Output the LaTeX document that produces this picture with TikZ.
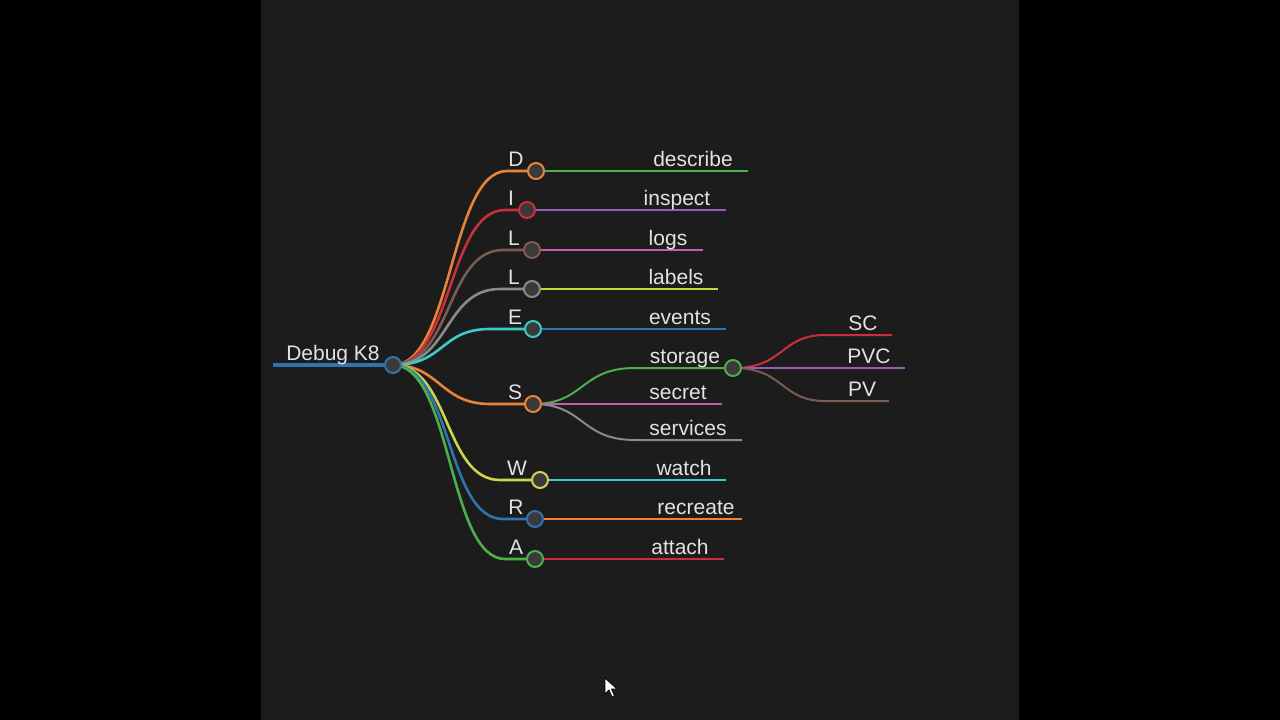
\documentclass[tikz,border=0pt]{standalone}
\usepackage{fontspec}
\setmainfont{Liberation Sans}
\definecolor{panel}{HTML}{1C1C1C}
\definecolor{dotfill}{HTML}{3A3A3A}
\definecolor{txt}{HTML}{E2E2E2}
\definecolor{corange}{HTML}{E8833A}
\definecolor{cred}{HTML}{C9303E}
\definecolor{cbrown}{HTML}{7B5B52}
\definecolor{cgray}{HTML}{8A8A8A}
\definecolor{ccyan}{HTML}{3DC9C9}
\definecolor{cyellow}{HTML}{CFD44A}
\definecolor{cblue}{HTML}{2F73B0}
\definecolor{cgreen}{HTML}{4BB04A}
\definecolor{cpurple}{HTML}{9B5BB5}
\definecolor{cpink}{HTML}{C85AB0}
\definecolor{cygreen}{HTML}{C5D43A}
\pgfdeclarelayer{bg}
\pgfsetlayers{bg,main}
\begin{document}
\begin{tikzpicture}[x=1pt,y=-1pt,
  br/.style={line width=2.6pt},
  lf/.style={line width=2pt},
  dot/.style={circle,draw,line width=2pt,fill=dotfill,minimum size=16pt,inner sep=0pt},
  lbl/.style={text=txt,font=\fontsize{21}{25}\selectfont,inner sep=0pt,anchor=base}]
\useasboundingbox (0,0) rectangle (1280,720);

% nodes
\node[dot,draw=cblue] (root) at (393,365) {};
\node[dot,draw=corange] (D) at (536,171) {};
\node[dot,draw=cred] (I) at (527,210) {};
\node[dot,draw=cbrown] (L1) at (532,250) {};
\node[dot,draw=cgray] (L2) at (532,289) {};
\node[dot,draw=ccyan] (E) at (533,329) {};
\node[dot,draw=corange] (S) at (533,404) {};
\node[dot,draw=cgreen] (ST) at (733,368) {};
\node[dot,draw=cyellow] (W) at (540,480) {};
\node[dot,draw=cblue] (R) at (535,519) {};
\node[dot,draw=cgreen] (A) at (535,559) {};

\coordinate (rootstart) at (273,365);
\coordinate (eDescribe) at (748,171);
\coordinate (eInspect) at (726,210);
\coordinate (eLogs) at (703,250);
\coordinate (eLabels) at (718,289);
\coordinate (eEvents) at (726,329);
\coordinate (eSecret) at (722,404);
\coordinate (eServices) at (742,440);
\coordinate (eWatch) at (726,480);
\coordinate (eRecreate) at (742,519);
\coordinate (eAttach) at (724,559);
\coordinate (eSC) at (892,335);
\coordinate (ePVC) at (905,368);
\coordinate (ePV) at (889,401);

% labels
\node[lbl] (tRoot) at (333,360) {Debug K8};
\node[lbl] (tD) at (516,166) {D};
\node[lbl] (tI) at (511,205) {I};
\node[lbl] (tL1) at (514,245) {L};
\node[lbl] (tL2) at (514,284) {L};
\node[lbl] (tE) at (515,324) {E};
\node[lbl] (tS) at (515,399) {S};
\node[lbl] (tW) at (517,475) {W};
\node[lbl] (tR) at (516,514) {R};
\node[lbl] (tA) at (516,554) {A};
\node[lbl] (tDescribe) at (693,166) {describe};
\node[lbl] (tInspect) at (677,205) {inspect};
\node[lbl] (tLogs) at (668,245) {logs};
\node[lbl] (tLabels) at (676,284) {labels};
\node[lbl] (tEvents) at (680,324) {events};
\node[lbl] (tStorage) at (685,363) {storage};
\node[lbl] (tSecret) at (678,399) {secret};
\node[lbl] (tServices) at (688,435) {services};
\node[lbl] (tWatch) at (684,475) {watch};
\node[lbl] (tRecreate) at (696,514) {recreate};
\node[lbl] (tAttach) at (680,554) {attach};
\node[lbl] (tSC) at (863,330) {SC};
\node[lbl] (tPVC) at (869,363) {PVC};
\node[lbl] (tPV) at (862,396) {PV};

\begin{pgfonlayer}{bg}
\fill[black] (0,0) rectangle (1280,720);
\fill[panel] (261,0) rectangle (1019,720);
\draw[line width=4pt,cblue] (rootstart) -- (root.center);
% main branches
\draw[br,corange] (root.center) .. controls (452,365) and (450,171) .. (507,171) -- (D.center);
\draw[br,cred] (root.center) .. controls (452,365) and (448,210) .. (505,210) -- (I.center);
\draw[br,cbrown] (root.center) .. controls (452,365) and (446,250) .. (503,250) -- (L1.center);
\draw[br,cgray] (root.center) .. controls (450,365) and (444,289) .. (500,289) -- (L2.center);
\draw[br,ccyan] (root.center) .. controls (445,365) and (440,329) .. (490,329) -- (E.center);
\draw[br,corange] (root.center) .. controls (440,365) and (440,404) .. (490,404) -- (S.center);
\draw[br,cyellow] (root.center) .. controls (450,365) and (444,480) .. (500,480) -- (W.center);
\draw[br,cblue] (root.center) .. controls (452,365) and (446,519) .. (503,519) -- (R.center);
\draw[br,cgreen] (root.center) .. controls (452,365) and (448,559) .. (505,559) -- (A.center);
% leaves
\draw[lf,cgreen] (D.center) -- (eDescribe);
\draw[lf,cpurple] (I.center) -- (eInspect);
\draw[lf,cpink] (L1.center) -- (eLogs);
\draw[lf,cygreen] (L2.center) -- (eLabels);
\draw[lf,cblue] (E.center) -- (eEvents);
\draw[lf,cgreen] (S.center) .. controls (585,404) and (580,368) .. (635,368) -- (ST.center);
\draw[lf,cpink] (S.center) -- (eSecret);
\draw[lf,cgray] (S.center) .. controls (585,404) and (580,440) .. (635,440) -- (eServices);
\draw[lf,ccyan] (W.center) -- (eWatch);
\draw[lf,corange] (R.center) -- (eRecreate);
\draw[lf,cred] (A.center) -- (eAttach);
\draw[lf,cred] (ST.center) .. controls (785,368) and (780,335) .. (825,335) -- (eSC);
\draw[lf,cpurple] (ST.center) -- (ePVC);
\draw[lf,cbrown] (ST.center) .. controls (785,368) and (780,401) .. (825,401) -- (ePV);
\end{pgfonlayer}

% mouse pointer
\filldraw[fill=white,draw=black,line width=0.8pt,line join=round]
  (605,678) -- (605,694) -- (609,690) -- (612,697) -- (614.5,696) -- (611.5,689) -- (617,689) -- cycle;
\end{tikzpicture}
\end{document}
